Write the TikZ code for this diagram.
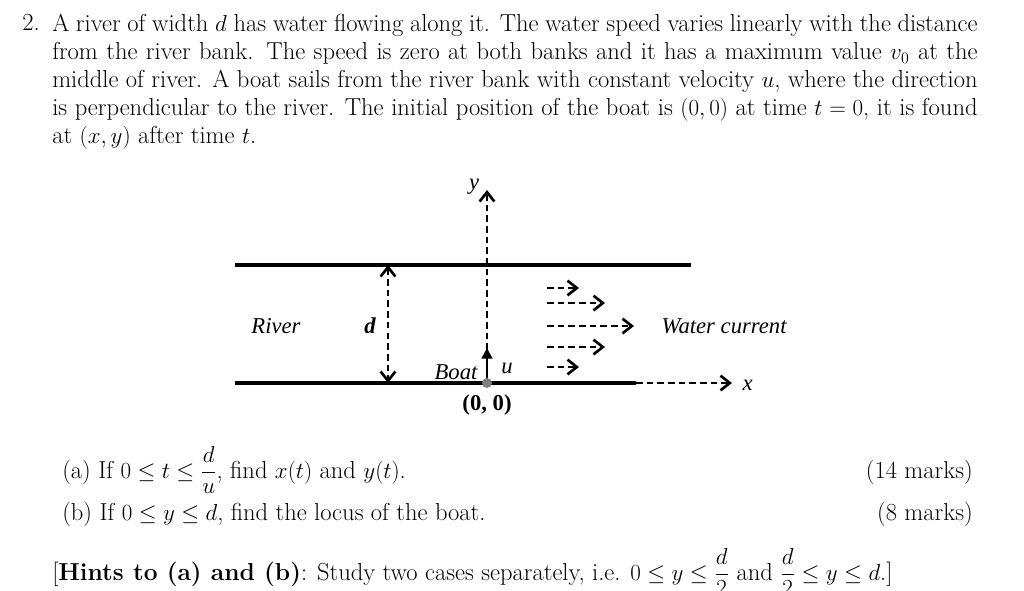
\documentclass[tikz,border=0pt]{standalone}
\usepackage{amsmath}
\usepackage{fontspec}
\newfontfamily\tnr{Liberation Serif}
\usetikzlibrary{arrows.meta}
\begin{document}
\begin{tikzpicture}[x=0.75pt,y=-0.75pt,
  bank/.style={line width=3pt},
  dsh/.style={line width=2pt,dash pattern=on 5pt off 3pt,-{Straight Barb[length=7pt,width=11pt,line width=2pt]}},
  lab/.style={font=\tnr\fontsize{17}{17}\selectfont\itshape},
  txt/.style={font=\fontsize{18.4}{21}\selectfont,inner sep=0pt}]
\useasboundingbox (0,0) rectangle (1024,590);
% paragraph
\node[txt,anchor=north west] (num) at (22,14) {2.};
\node[txt,anchor=north west,text width=694pt,align=justify] (para) at (52,14)
 {A river of width $d$ has water flowing along it. The water speed varies linearly with the distance from the river bank. The speed is zero at both banks and it has a maximum value $v_0$ at the middle of river. A boat sails from the river bank with constant velocity $u$, where the direction is perpendicular to the river. The initial position of the boat is $(0,0)$ at time $t=0$, it is found at $(x,y)$ after time $t$.\par};
% diagram
\coordinate (tl) at (235,265); \coordinate (tr) at (691,265);
\coordinate (bl) at (235,383); \coordinate (br) at (636,383);
\coordinate (xe) at (732,383);
\draw[bank] (tl) -- (tr);
\draw[bank] (bl) -- (br);
\draw[dsh] (br) -- (xe);
\node[lab,anchor=west] (xl) at (738,385) {x};
\coordinate (o) at (487,383);
\coordinate (ye) at (487,190);
\draw[dsh] (487,350) -- (ye);
\node[lab,anchor=east] (yl) at (484,187) {y};
\draw[line width=2pt,-{Triangle[length=8pt,width=8pt]}] (o) -- (487,348);
\node[lab] (ul) at (507,368) {u};
\fill[gray] (o) circle (5);
\node[lab] (boat) at (456,372) {Boat};
\node[font=\tnr\fontsize{17}{17}\selectfont\bfseries] (orig) at (487,405) {(0, 0)};
\coordinate (dt) at (388,265); \coordinate (db) at (388,383);
\draw[dsh,{Straight Barb[length=7pt,width=11pt,line width=2pt]}-{Straight Barb[length=7pt,width=11pt,line width=2pt]}] (dt) -- (db);
\node[lab,font=\tnr\fontsize{17}{17}\selectfont\bfseries\itshape] (dl) at (370,326) {d};
\node[lab] (river) at (276,326) {River};
\foreach \y/\e [count=\i] in {288/579,303/605,326/634,347/605,367/579}
  \draw[dsh] (547,\y) -- (\e,\y);
\node[lab,anchor=west] (wc) at (657,326) {Water current};
% questions
\node[txt,anchor=base west] (qa) at (62,478) {(a) If $0\le t\le \dfrac{d}{u}$, find $x(t)$ and $y(t)$.};
\node[txt,anchor=base east] (ma) at (973,478) {(14 marks)};
\node[txt,anchor=base west] (qb) at (62,520) {(b) If $0\le y\le d$, find the locus of the boat.};
\node[txt,anchor=base east] (mb) at (973,520) {(8 marks)};
\node[txt,anchor=base west] (hint) at (52,580) {[\textbf{Hints to (a) and (b)}: Study two cases separately, i.e. $0\le y\le \dfrac{d}{2}$ and $\dfrac{d}{2}\le y\le d$.]};
\end{tikzpicture}
\end{document}
